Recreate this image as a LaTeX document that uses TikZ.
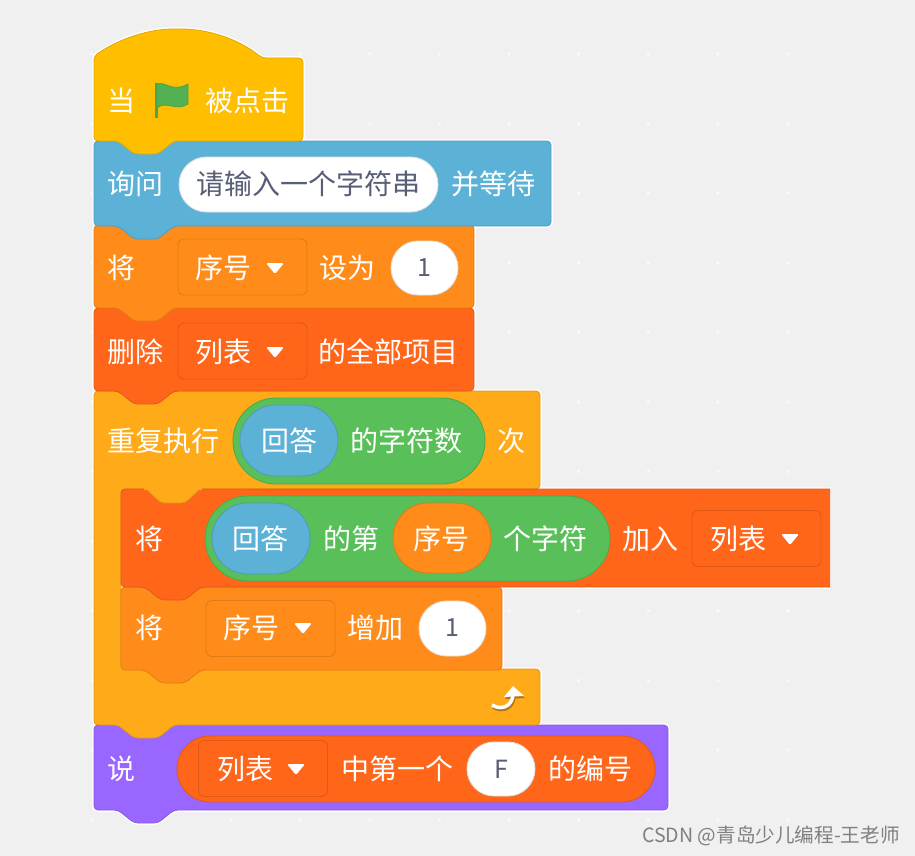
\documentclass[tikz,border=0pt]{standalone}
\usepackage{fontspec}
\usetikzlibrary{shapes.misc}
\setmainfont{Noto Sans CJK SC}
\definecolor{sheet}{HTML}{F0F0F0}
\definecolor{hatyellow}{HTML}{FFBF00}
\definecolor{askblue}{HTML}{5CB1D6}
\definecolor{varorange}{HTML}{FF8C1A}
\definecolor{listred}{HTML}{FF661A}
\definecolor{loopyellow}{HTML}{FFAB19}
\definecolor{opgreen}{HTML}{59C059}
\definecolor{saypurple}{HTML}{9966FF}
\definecolor{inkgray}{HTML}{575E75}
\tikzset{
	haloline/.style={draw=white, line width=3.5pt, rounded corners=4pt},
	blockfill/.style={fill=#1, draw=#1!88!black, line width=0.8pt, rounded corners=4pt},
	lbl/.style={text=white, inner sep=0pt, font=\fontsize{28}{28}\selectfont},
	inklbl/.style={lbl, text=inkgray},
	pill/.style={rounded rectangle, draw=#1!88!black, fill=#1, line width=0.9pt, inner sep=0pt},
	dropbox/.style={draw=#1!88!black, fill=#1, line width=0.9pt, rounded corners=6pt, inner sep=0pt, minimum width=129pt, minimum height=56pt},
	griddot/.style={draw=black!6, fill=white!70!sheet, line width=0.6pt},
	watermark/.style={text=black!50, inner sep=0pt, font=\fontsize{19.6}{19.6}\selectfont}
}
\newcommand{\stackblock}[5]{
	\draw[#5] (#1,#2) -- (#3,#2) -- (#3,#4) -- (#1+80,#4) -- (#1+64,#4+13) -- (#1+40,#4+13) -- (#1+24,#4) -- (#1,#4) -- cycle;
}
\newcommand{\hatblock}[1]{
	\draw[#1] (94,56) .. controls (120,38) and (150,29) .. (177,29) .. controls (210,29) and (240,40) .. (262,58)
		[rounded corners=4pt] -- (303,58) -- (303,141) -- (174,141) -- (158,154) -- (134,154) -- (118,141) -- (94,141) -- cycle;
}
\newcommand{\loopblock}[1]{
	\draw[#1] (94,391) -- (540,391) -- (540,489) -- (121,489) -- (121,669) -- (540,669) -- (540,725)
		-- (174,725) -- (158,738) -- (134,738) -- (118,725) -- (94,725) -- cycle;
}
\begin{document}
\begin{tikzpicture}[x=1pt, y=-1pt]
	\useasboundingbox (0,0) rectangle (915,856);
	\fill[sheet] (0,0) rectangle (915,856);
	% dots of the work area
	\foreach \i in {0,...,10}{
		\foreach \j in {0,...,11}{
			\draw[griddot] (91.4+69.6*\i, 54+69.6*\j) circle (2pt);
		}
	}
	\begin{scope}
		\clip (0,0) rectangle (830,856);
		% white edge first, then the stack from the bottom up
		\hatblock{haloline}
		\loopblock{haloline}
		\foreach \x/\t/\r/\b in {94/141/551/226,94/225/474/308,94/308/474/391,121/489/850/587,121/587/502/670,94/725/668/810}{
			\stackblock{\x}{\t}{\r}{\b}{haloline}
		}
		\stackblock{94}{725}{668}{810}{blockfill=saypurple}
		\loopblock{blockfill=loopyellow}
		\stackblock{121}{587}{502}{670}{blockfill=varorange}
		\stackblock{121}{489}{850}{587}{blockfill=listred}
		\draw[blockfill=loopyellow] (145,488) -- (161,503) -- (185,503) -- (201,488);
		\fill[loopyellow] (144,486) rectangle (202,489.5);
		\stackblock{94}{308}{474}{391}{blockfill=listred}
		\stackblock{94}{225}{474}{308}{blockfill=varorange}
		\stackblock{94}{141}{551}{226}{blockfill=askblue}
		\hatblock{blockfill=hatyellow}
	\end{scope}
	% flag
	\fill[opgreen!85!black] (154.5,83) rectangle (158,118);
	\draw[fill=opgreen!92!black, draw=opgreen!85!black, line width=0.8pt] (157,84) .. controls (166,81) and (172,93) .. (188,84) -- (188,104) .. controls (176,112) and (166,100) .. (157,108) -- cycle;
	% holes of the blocks
	\node[pill=white, minimum width=259pt, minimum height=55pt] (askhole) at (308.5,184.5) {};
	\node[dropbox=varorange] (setdrop) at (242.5,267) {};
	\node[pill=white, minimum width=67pt, minimum height=54pt] (sethole) at (424.5,268) {};
	\node[dropbox=listred] (cleardrop) at (242.5,351) {};
	\node[pill=opgreen, minimum width=252pt, minimum height=86pt] (lengthop) at (359,441) {};
	\node[pill=askblue, minimum width=98pt, minimum height=71pt] (lengthanswer) at (289,440.5) {};
	\node[pill=opgreen, minimum width=405pt, minimum height=85pt] (letterop) at (407.5,538.5) {};
	\node[pill=askblue, minimum width=98pt, minimum height=71pt] (letteranswer) at (261,538.5) {};
	\node[pill=varorange, minimum width=98pt, minimum height=70pt] (letterindex) at (442,538) {};
	\node[dropbox=listred] (adddrop) at (756.5,538.5) {};
	\node[dropbox=varorange] (changedrop) at (270.5,628.5) {};
	\node[pill=white, minimum width=67pt, minimum height=55pt] (changehole) at (452.5,628.5) {};
	\node[pill=listred, minimum width=478pt, minimum height=66pt] (findop) at (416,769) {};
	\node[dropbox=listred] (finddrop) at (263,768.5) {};
	\node[pill=white, minimum width=68pt, minimum height=54pt] (findhole) at (501,769) {};
	% texts of the blocks
	\foreach \n/\x/\y/\t in {
		when/121/101/当, clicked/247/101/被点击,
		ask/135/184/询问, wait/493/184/并等待,
		setv/121/268/将, setseq/223/268/序号, setto/347/268/设为,
		del/135/352/删除, dellist/223/352/列表, delall/388/352/的全部项目,
		rep/163/441/重复执行, repans/289/441/回答, replen/406/441/的字符数, reptimes/511/441/次,
		add/149/539/将, addans/260/539/回答, addnth/351/539/的第, addseq/441/539/序号, addch/545/539/个字符, addin/650/539/加入, addlist/738/539/列表,
		inc/149/628/将, incseq/251/628/序号, incby/375/628/增加,
		say/121/769/说, saylist/245/769/列表, sayfirst/397/769/中第一个, sayidx/590/769/的编号}{
		\node[lbl] (\n) at (\x,\y) {\t};
	}
	\node[inklbl] (asktext) at (308,184) {请输入一个字符串};
	\foreach \n/\x/\y/\t in {setone/424/268/1, incone/452/628/1, sayf/501/769/F}{
		\node[inklbl, font=\fontsize{25}{25}\selectfont] (\n) at (\x,\y) {\t};
	}
	% arrows of the drop-downs
	\foreach \x/\y in {275/268,275/352,790/539,303/628,296/769}{
		\fill[white, rounded corners=1.5pt] (\x-9,\y-5) -- (\x+9,\y-5) -- (\x,\y+6) -- cycle;
	}
	% loop arrow
	\draw[loopyellow!70!black, line width=3.5pt] (493,707) .. controls (503,713) and (513,708) .. (514,697);
	\fill[loopyellow!70!black] (505,699) -- (514,688) -- (525,698) -- cycle;
	\draw[white, line width=3.5pt] (492,705) .. controls (502,711) and (512,706) .. (513,695);
	\fill[white] (504,697) -- (513,686) -- (524,696) -- cycle;
	\node[watermark] (mark) at (771,836) {CSDN @青岛少儿编程-王老师};
\end{tikzpicture}
\end{document}
